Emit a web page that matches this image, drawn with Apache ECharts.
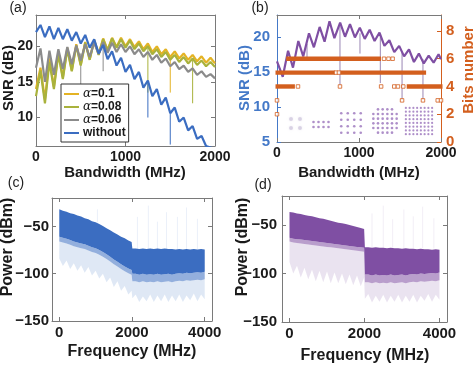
<!DOCTYPE html>
<html><head><meta charset="utf-8">
<script src="https://cdn.jsdelivr.net/npm/echarts@6/dist/echarts.min.js"></script>
<style>html,body{margin:0;padding:0;background:#fff}#c{width:474px;height:365px}</style>
</head><body><div id="c"></div>
<script>
// ---------- (a) SNR vs bandwidth ----------
const freqA = [0,50,100,150,200,250,300,350,400,450,500,550,600,650,700,750,800,850,900,950,1000,1050,1100,1150,1200,1250,1300,1350,1400,1450,1500,1550,1600,1650,1700,1750,1800,1850,1900,1950,2000];
const snrAlpha010 = [14.0,17.0,12.5,18.3,14.3,19.2,15.6,19.8,16.6,20.3,17.4,20.6,18.2,20.9,18.9,21.1,19.5,21.2,19.9,21.2,20.0,21.0,19.9,20.7,19.6,20.4,19.2,20.0,18.9,19.6,18.5,19.3,18.3,19.0,18.1,18.8,17.9,18.6,17.7,18.4,17.6];
const snrAlpha008 = [13.0,16.6,12.0,17.8,14.0,18.9,15.4,19.6,16.5,20.1,17.3,20.5,18.1,20.8,18.8,21.0,19.4,21.1,19.8,21.0,19.8,20.8,19.6,20.4,19.3,20.0,18.9,19.6,18.5,19.2,18.1,18.8,17.8,18.5,17.6,18.3,17.4,18.0,17.2,17.8,17.1];
const snrAlpha006 = [17.0,19.7,15.0,19.4,16.0,19.6,16.8,19.9,17.5,20.1,18.0,20.3,18.5,20.5,18.9,20.6,19.1,20.5,19.2,20.3,19.2,20.0,18.9,19.6,18.5,19.2,18.1,18.8,17.7,18.3,17.2,17.8,16.8,17.3,16.4,16.9,16.0,16.5,15.7,16.1,15.5];
const snrWithout = [22.0,23.0,21.3,22.8,21.0,22.6,21.0,22.4,20.8,22.0,20.4,21.6,19.8,21.0,19.0,20.2,18.2,19.3,17.3,18.4,16.4,17.4,15.4,16.4,14.2,15.2,13.0,14.0,11.8,12.8,10.6,11.4,9.4,10.0,8.2,8.8,7.0,7.4,6.0,5.8,5.6];
// dips: [freq, from, to]
const dipsAlpha010 = [[1500,18.6,13.5]];
const dipsAlpha008 = [[1250,19.8,13.5],[1750,18.2,12.0]];
const dipsAlpha006 = [[500,19.0,14.0],[750,20.0,16.5]];
const dipsWithout = [[1250,14.8,10.0],[1500,10.6,6.2]];
const legendNames = ['α=0.1','α=0.08','α=0.06','without'];
const ticksAX = [0,1000,2000], ticksAY = [10,15,20];

// ---------- (b) SNR + bits ----------
const freqB = [0,70,135,195,260,320,390,450,520,580,640,700,770,830,890,950,1010,1070,1130,1190,1250,1310,1370,1430,1490,1550,1610,1670,1730,1790,1850,1910,1970,2000];
const snrB = [16.5,14.3,18.0,15.6,19.4,17.2,20.5,18.5,21.4,19.3,22.2,19.8,22.0,20.0,21.8,19.9,21.3,19.7,21.0,19.4,20.6,18.7,19.5,17.8,18.7,17.2,18.2,16.4,17.6,16.2,17.3,16.3,17.5,16.8];
const dipsB = [[366,19.0,17.0],[768,21.5,13.1],[1012,20.5,17.6],[1260,20.2,13.4],[1525,17.8,11.0],[1780,16.8,11.0]];
// runs of densely loaded subcarriers: [bits, startMHz, endMHz]
const bitsRuns = [[6,130,1250],[5,0,690],[5,790,1800],[4,0,200],[4,1600,2000]];
// isolated subcarriers: [freq, bits]
const bitsSquares = [[1305,6],[1360,6],[1410,6],[720,5],[755,5],[256,4],[768,4],[1270,4],[1430,4],[1475,4],[1540,4],[0,3],[1525,3],[1780,3],[1960,3],[2000,3],[0,2]];
const ticksBX = [0,1000,2000], ticksBY = [5,10,15,20], ticksBits = [0,2,4,6,8];
// constellation grid levels
const qpskLevels = [-1,1];
const qam8LevelsX = [-3,-1,1,3], qam8LevelsY = [-1,1];
const qam16Levels = [-3,-1,1,3];
const qam32Levels = [-5,-3,-1,1,3,5];
const qam64Levels = [-7,-5,-3,-1,1,3,5,7];

// ---------- (c),(d) spectra ----------
const freqCD = [0,100,200,300,400,500,600,700,800,900,1000,1100,1200,1300,1400,1500,1600,1700,1800,1900,1990,2010,2100,2200,2300,2400,2500,2600,2700,2800,2900,3000,3100,3200,3300,3400,3500,3600,3700,3800,3900,4000];
const upperC = [-32,-33.5,-34.5,-36,-37,-38.5,-39.5,-41.5,-42.5,-44.5,-45.5,-47.5,-49.5,-52,-54,-56.5,-58.5,-61,-62.5,-65,-66.5,-73.5,-73.5,-74,-73.5,-74,-73.5,-74,-73.5,-74,-73.5,-74,-74,-74.5,-74,-74.5,-74,-74.5,-74,-74.5,-74,-74.5];
const coreLowC = [-61,-62,-63,-64.5,-66,-67,-68,-69,-70.5,-72,-73,-75,-77,-79.5,-82,-85,-87.5,-90,-92.5,-94.5,-96,-100,-100,-101,-100,-101,-100.5,-101,-100,-101,-100.5,-100,-101,-100,-99.5,-100,-99,-99.5,-99,-98.5,-99,-98];
const solidLowC = [-66,-67,-68,-69.5,-71,-72,-73,-74,-75.5,-77,-78,-80,-82,-84.5,-87,-90,-92.5,-95,-97.5,-99.5,-101,-108,-108,-109,-108,-109,-108.5,-109,-108,-109,-108.5,-108,-109,-108,-107.5,-108,-107,-107.5,-107,-106.5,-107,-106];
const fringeLowC = [-84,-92,-86,-95,-89,-97,-91,-99,-93,-102,-97,-105,-100,-109,-104,-114,-108,-118,-113,-122,-118,-126,-122,-130,-124,-129,-122,-130,-123,-129,-122,-130,-123,-129,-122,-130,-123,-128,-121,-129,-122,-127];
const upperD = [-36.5,-37,-38,-38.5,-39.5,-40.5,-41,-42,-43,-43.5,-44.5,-45.5,-46.5,-47.5,-48,-49,-50,-51,-52,-53,-54,-73,-73,-73.5,-73,-73.5,-73.5,-74,-73.5,-74,-74,-74.5,-74,-74.5,-74.5,-75,-74.5,-75,-75,-75.5,-75,-75.5];
const coreLowD = [-63,-64,-64.5,-65,-65.5,-66,-66.5,-67,-67.5,-68,-68.5,-69,-69.5,-70,-70.5,-71,-71.5,-72,-72.5,-73,-73.5,-101,-101,-102,-101,-102,-101.5,-102,-101,-102,-101.5,-101,-102,-101,-100.5,-101,-100,-100.5,-100,-99.5,-100,-99];
const solidLowD = [-67,-68,-68.5,-69,-69.5,-70,-70.5,-71,-71.5,-72,-72.5,-73,-73.5,-74,-74.5,-75,-75.5,-76,-76.5,-77,-77.5,-109,-109,-110,-109,-110,-109.5,-110,-109,-110,-109.5,-109,-110,-109,-108.5,-109,-108,-108.5,-108,-107.5,-108,-107];
const fringeLowD = [-88,-100,-92,-104,-94,-106,-96,-108,-97,-109,-98,-110,-99,-110,-100,-111,-101,-112,-102,-113,-104,-126,-121,-130,-123,-129,-122,-130,-123,-129,-122,-130,-123,-129,-122,-130,-123,-128,-121,-129,-122,-127];
const spikesUpC = [[1050,-46,-32],[2150,-74,-40],[2450,-74,-28],[2700,-74,-45],[2950,-74,-35],[3250,-74,-40],[3500,-74,-30],[3800,-74,-42]];
const spikesUpD = [[2200,-74,-38],[2500,-74,-30],[2750,-74,-44],[3050,-74,-34],[3300,-74,-41],[3550,-74,-31],[3850,-74,-43]];
const ticksCX = [0,2000,4000], ticksCY = [-150,-100,-50];

// ---------- styling ----------
const FONT = '"Liberation Sans", Arial, Helvetica, sans-serif';
const AX = '#7a7a7a';
const C_GOLD = '#E4B324', C_OLIVE = '#A9B23C', C_GRAY = '#8B8B8B', C_BLUE = '#3B6DC1';
const C_PURPLE = '#7F4FA3', C_SNRAX = '#4479C8', C_ORANGE = '#D35F1E';

const pairs = (xs, ys) => xs.map((x, i) => [x, ys[i]]);

function axis(kind, gridIndex, min, max, ticks, position, opt) {
  opt = opt || {};
  return {
    type: 'value', gridIndex, min, max, position,
    axisLine: { show: true, onZero: false, lineStyle: { color: opt.lineColor || AX, width: 1 } },
    axisTick: { show: true, inside: true, length: 4, customValues: ticks, lineStyle: { color: opt.lineColor || AX } },
    axisLabel: {
      show: !!opt.labels, customValues: ticks, margin: opt.margin != null ? opt.margin : 4,
      color: opt.labelColor || '#1a1a1a', fontSize: opt.fontSize || 14, fontWeight: 'bold', fontFamily: FONT,
      formatter: v => String(v).replace('-', '\u2212')
    },
    splitLine: { show: false }
  };
}

const grids = [
  { left: 36, top: 15, width: 179, height: 131 },
  { left: 277, top: 15, width: 164, height: 127 },
  { left: 52, top: 198, width: 160, height: 123 },
  { left: 282, top: 196, width: 165, height: 126 },
  // constellations
  { left: 287, top: 114, width: 17, height: 19 },
  { left: 311, top: 119, width: 20, height: 11 },
  { left: 338, top: 110, width: 26, height: 26 },
  { left: 371, top: 107, width: 28, height: 28 },
  { left: 404, top: 106, width: 30, height: 30 }
].map(g => Object.assign({ outerBoundsMode: 'none', containLabel: false }, g));

const xAxes = [
  axis('x', 0, 0, 2000, ticksAX, 'bottom', { labels: true }),
  axis('x', 0, 0, 2000, ticksAX, 'top'),
  axis('x', 1, 0, 2000, ticksBX, 'bottom', { labels: true }),
  axis('x', 1, 0, 2000, ticksBX, 'top'),
  axis('x', 2, -200, 4200, ticksCX, 'bottom', { labels: true, fontSize: 15 }),
  axis('x', 2, -200, 4200, ticksCX, 'top'),
  axis('x', 3, -200, 4200, ticksCX, 'bottom', { labels: true, fontSize: 15 }),
  axis('x', 3, -200, 4200, ticksCX, 'top')
];
const yAxes = [
  axis('y', 0, 6, 24.4, ticksAY, 'left', { labels: true, margin: 3 }),
  axis('y', 0, 6, 24.4, ticksAY, 'right'),
  axis('y', 1, 5, 23.1, ticksBY, 'left', { labels: true, lineColor: C_SNRAX, labelColor: C_SNRAX, margin: 7, fontSize: 15 }),
  axis('y', 1, 0, 9.15, ticksBits, 'right', { labels: true, lineColor: C_ORANGE, labelColor: C_ORANGE, margin: 5, fontSize: 15 }),
  axis('y', 2, -150, -20, ticksCY, 'left', { labels: true, fontSize: 15, margin: 3 }),
  axis('y', 2, -150, -20, ticksCY, 'right'),
  axis('y', 3, -150, -20, ticksCY, 'left', { labels: true, fontSize: 15, margin: 5 }),
  axis('y', 3, -150, -20, ticksCY, 'right')
];
const constRanges = [[1.9, 2.1], [4, 2.2], [4, 4], [6, 6], [8, 8]];
constRanges.forEach((r, k) => {
  xAxes.push({ type: 'value', gridIndex: 4 + k, min: -r[0], max: r[0], show: false });
  yAxes.push({ type: 'value', gridIndex: 4 + k, min: -r[1], max: r[1], show: false });
});

function grid2(xs, ys, skip) {
  const out = [];
  xs.forEach(x => ys.forEach(y => { if (!skip || !skip(x, y)) out.push([x, y]); }));
  return out;
}
const constellations = [
  grid2(qpskLevels, qpskLevels),
  grid2(qam8LevelsX, qam8LevelsY),
  grid2(qam16Levels, qam16Levels),
  grid2(qam32Levels, qam32Levels, (x, y) => Math.abs(x) === 5 && Math.abs(y) === 5),
  grid2(qam64Levels, qam64Levels)
];

function dipSeries(data, xi, yi, color, width, opacity) {
  return {
    type: 'custom', xAxisIndex: xi, yAxisIndex: yi, silent: true, z: 3,
    data: data, encode: { x: 0, y: [1, 2] },
    renderItem: (params, api) => {
      const p1 = api.coord([api.value(0), api.value(1)]);
      const p2 = api.coord([api.value(0), api.value(2)]);
      return { type: 'line', shape: { x1: p1[0], y1: p1[1], x2: p2[0], y2: p2[1] },
        style: { stroke: color, lineWidth: width || 1, opacity: opacity == null ? 1 : opacity } };
    }
  };
}
function lineSeries(name, data, xi, yi, color, width) {
  return { name, type: 'line', xAxisIndex: xi, yAxisIndex: yi, data, symbol: 'none', showSymbol: false,
    lineStyle: { color, width: width || 2.2 }, itemStyle: { color }, z: 4, animation: false, clip: true };
}
// band between two boundary arrays: one polygon (upper edge forward, lower edge backward)
function bandSeries(xs, top, bottom, xi, yi, color, opacity) {
  return {
    type: 'custom', xAxisIndex: xi, yAxisIndex: yi, silent: true, z: 2,
    data: xs.map((x, i) => [x, top[i], bottom[i]]), encode: { x: 0, y: [1, 2] },
    renderItem: (params, api) => {
      if (params.dataIndex !== 0) return null;
      const pts = [];
      xs.forEach((x, i) => pts.push(api.coord([x, top[i]])));
      for (let i = xs.length - 1; i >= 0; i--) pts.push(api.coord([xs[i], bottom[i]]));
      return { type: 'polygon', shape: { points: pts }, style: { fill: color, opacity } };
    }
  };
}

const series = [
  lineSeries(legendNames[0], pairs(freqA, snrAlpha010), 0, 0, C_GOLD),
  dipSeries(dipsAlpha010, 0, 0, C_GOLD),
  lineSeries(legendNames[1], pairs(freqA, snrAlpha008), 0, 0, C_OLIVE),
  dipSeries(dipsAlpha008, 0, 0, C_OLIVE),
  lineSeries(legendNames[2], pairs(freqA, snrAlpha006), 0, 0, C_GRAY),
  dipSeries(dipsAlpha006, 0, 0, C_GRAY),
  lineSeries(legendNames[3], pairs(freqA, snrWithout), 0, 0, C_BLUE),
  dipSeries(dipsWithout, 0, 0, C_BLUE),
  // (b)
  lineSeries('snrB', pairs(freqB, snrB), 2, 2, C_PURPLE),
  dipSeries(dipsB, 2, 2, '#9a86b4'),
  {
    type: 'custom', xAxisIndex: 2, yAxisIndex: 3, silent: true, z: 5,
    data: bitsRuns, encode: { x: [1, 2], y: 0 },
    renderItem: (params, api) => {
      const p1 = api.coord([api.value(1), api.value(0)]);
      const p2 = api.coord([api.value(2), api.value(0)]);
      return { type: 'rect', shape: { x: p1[0] - 1.5, y: p1[1] - 2.2, width: p2[0] - p1[0] + 3, height: 4.4 },
        style: { fill: C_ORANGE } };
    }
  },
  { type: 'scatter', xAxisIndex: 2, yAxisIndex: 3, data: bitsSquares, symbol: 'rect', symbolSize: 3.5,
    itemStyle: { color: '#fff', borderColor: C_ORANGE, borderWidth: 1, opacity: 0.8 }, z: 5, silent: true },
  // (c),(d)
  bandSeries(freqCD, solidLowC, fringeLowC, 4, 4, C_BLUE, 0.16),
  bandSeries(freqCD, coreLowC, solidLowC, 4, 4, C_BLUE, 0.55),
  bandSeries(freqCD, upperC, coreLowC, 4, 4, C_BLUE, 1),
  dipSeries(spikesUpC, 4, 4, C_BLUE, 1, 0.1),
  bandSeries(freqCD, solidLowD, fringeLowD, 6, 6, C_PURPLE, 0.16),
  bandSeries(freqCD, coreLowD, solidLowD, 6, 6, C_PURPLE, 0.55),
  bandSeries(freqCD, upperD, coreLowD, 6, 6, C_PURPLE, 1),
  dipSeries(spikesUpD, 6, 6, C_PURPLE, 1, 0.1)
];
constellations.forEach((pts, k) => {
  series.push({
    type: 'scatter', xAxisIndex: 8 + k, yAxisIndex: 8 + k, data: pts, silent: true, z: 6,
    symbol: 'circle', symbolSize: k === 0 ? 4 : (k === 4 ? 2.2 : 2.6),
    itemStyle: k === 0 ? { color: 'rgba(165,150,195,0.45)', shadowBlur: 3, shadowColor: 'rgba(165,150,195,0.5)' }
                       : { color: 'rgba(128,80,170,0.8)' }
  });
});

const T = (text, x, y, size) => ({
  type: 'text', x, y, silent: true, z: 100,
  style: { text, font: 'bold ' + (size || 15) + 'px ' + FONT, fill: '#1a1a1a', align: 'center', verticalAlign: 'middle' }
});
const Tr = (text, x, y, fill, size) => ({
  type: 'text', x, y, rotation: Math.PI / 2, silent: true, z: 100,
  style: { text, font: 'bold ' + (size || 15) + 'px ' + FONT, fill: fill || '#1a1a1a', align: 'center', verticalAlign: 'middle' }
});
const panelLabel = (t, x, y) => ({ type: 'text', x, y, silent: true, z: 100,
  style: { text: t, font: '14px ' + FONT, fill: '#222', align: 'center', verticalAlign: 'middle' } });

const option = {
  animation: false,
  backgroundColor: '#fff',
  grid: grids, xAxis: xAxes, yAxis: yAxes, series,
  legend: {
    data: legendNames, orient: 'vertical', left: 61, top: 84,
    backgroundColor: '#fff', borderColor: '#333', borderWidth: 1, borderRadius: 0,
    padding: [4, 3, 3, 3], itemGap: 1, itemWidth: 15, itemHeight: 2, itemStyle: { borderWidth: 0 },
    icon: 'rect', selectedMode: false,
    formatter: n => n.startsWith('α') ? '{g|α}{t|' + n.slice(1) + '}' : '{t|' + n + '}',
    textStyle: {
      padding: [0, 0, 0, -1],
      rich: {
        g: { fontFamily: 'DejaVu Serif, serif', fontStyle: 'italic', fontSize: 12, color: '#1a1a1a', lineHeight: 12 },
        t: { fontFamily: FONT, fontWeight: 'bold', fontSize: 12, color: '#1a1a1a', lineHeight: 12 }
      }
    }
  },
  graphic: [
    panelLabel('(a)', 18, 8), panelLabel('(b)', 260, 8), panelLabel('(c)', 16, 183), panelLabel('(d)', 263, 185),
    Tr('SNR (dB)', 9, 78),
    T('Bandwidth (MHz)', 125, 173),
    Tr('SNR (dB)', 245, 78, C_SNRAX),
    Tr('Bits number', 469, 70, C_ORANGE),
    T('Bandwidth (MHz)', 359, 173),
    Tr('Power (dBm)', 8, 247, null, 16),
    T('Frequency (MHz)', 132, 352, 16),
    Tr('Power (dBm)', 243, 247, null, 16),
    T('Frequency (MHz)', 365, 356, 16)
  ]
};
const chart = echarts.init(document.getElementById('c'));
chart.setOption(option);
</script></body></html>
